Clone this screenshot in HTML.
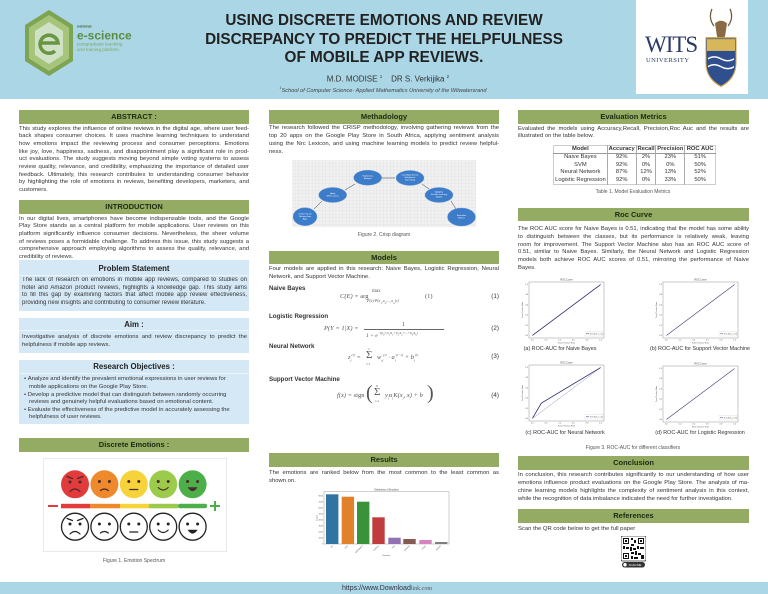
<!DOCTYPE html>
<html><head><meta charset="utf-8">
<style>
*{margin:0;padding:0;box-sizing:border-box}
body{width:768px;height:594px;overflow:hidden;background:#fff;font-family:"Liberation Sans",sans-serif;color:#333}
#pg{position:relative;width:768px;height:594px;overflow:hidden;background:#fff}
.a{position:absolute}
.bar{position:absolute;background:#93ab63;font-weight:bold;font-size:7.5px;color:#1d2a12;text-align:center}
.t{position:absolute;font-size:5.9px;color:#333;--lh:7.7px}
.t div{height:var(--lh);line-height:var(--lh);overflow:hidden;text-align:justify;text-align-last:justify;white-space:normal}
.t div.l{text-align-last:left}
.box{position:absolute;background:#d5e8f5}
.bh{position:absolute;font-weight:bold;font-size:7.8px;color:#222;text-align:center;height:11px;line-height:11px}
.sep{position:absolute;height:1px;background:#eaf4fb}
.cap{position:absolute;font-size:5px;color:#555;text-align:center;white-space:nowrap}
.sh{position:absolute;font-weight:bold;font-size:6.2px;color:#333}
.eq{position:absolute;font-family:"Liberation Serif",serif;font-style:italic;color:#555;font-size:6.5px;white-space:nowrap}
.en{position:absolute;font-size:6.3px;color:#333;right:269px}
table{border-collapse:collapse;font-size:5.8px;color:#333}
td{height:7.6px;line-height:7.2px;text-align:center;padding:0;border-left:0.6px solid #aaa;white-space:nowrap}
td:first-child{border-left:none}
.ro div{height:7.66px;line-height:7.66px;white-space:nowrap}
</style></head><body><div id="pg">

<!-- HEADER -->
<div class="a" style="left:0;top:0;width:768px;height:99px;background:#abd6e6"></div>
<svg class="a" style="left:0;top:0" width="160" height="99" viewBox="0 0 160 99">
  <polygon points="49,10 73,25 73,61 49,76 25,61 25,25" fill="#7da453"/>
  <polygon points="49,15 69,27.5 69,58.5 49,71 29,58.5 29,27.5" fill="#a6c47a"/>
  <polygon points="49,22 63,31 63,55 49,64 35,55 35,31" fill="#cfe2c6"/>
  <path d="M40 43 H58 A9 9 0 1 0 55 51" stroke="#6a9542" stroke-width="3.6" fill="none"/>
  <text x="77" y="27.5" font-size="3.8" font-weight="bold" fill="#4a6a32" font-family="Liberation Sans">national</text>
  <text x="77" y="39.5" font-size="12" font-weight="bold" fill="#5b8d3e" font-family="Liberation Sans">e-science</text>
  <text x="77" y="45.5" font-size="4.6" fill="#7ea862" font-family="Liberation Sans">postgraduate teaching</text>
  <text x="77" y="50.8" font-size="4.6" fill="#7ea862" font-family="Liberation Sans">and training platform</text>
</svg>
<div class="a" style="left:0;top:13px;width:768px;text-align:center;font-weight:bold;font-size:15.3px;line-height:16px;color:#222">USING DISCRETE EMOTIONS AND REVIEW</div>
<div class="a" style="left:0;top:31.5px;width:768px;text-align:center;font-weight:bold;font-size:15.3px;line-height:16px;color:#222">DISCREPANCY TO PREDICT THE HELPFULNESS</div>
<div class="a" style="left:0;top:50px;width:768px;text-align:center;font-weight:bold;font-size:15.3px;line-height:16px;color:#222">OF MOBILE APP REVIEWS.</div>
<div class="a" style="left:4px;top:71.5px;width:768px;text-align:center;font-size:8px;line-height:9px;color:#333">M.D. MODISE <sup style="font-size:4.5px">1</sup>&nbsp;&nbsp;&nbsp;&nbsp;DR S. Verkijika <sup style="font-size:4.5px">2</sup></div>
<div class="a" style="left:0;top:85px;width:766px;text-align:center;font-size:5.6px;font-style:italic;line-height:7px;color:#444"><sup style="font-size:3.5px">1</sup>School of Computer Science· Applied Mathematics University of the Witwatersrand</div>
<!-- WITS -->
<div class="a" style="left:636px;top:0;width:112px;height:94px;background:#fff"></div>
<div class="a" style="left:645px;top:33px;font-family:'Liberation Serif',serif;font-size:23px;line-height:24px;color:#2b3a67;letter-spacing:-1px">WITS</div>
<div class="a" style="left:646px;top:56.5px;font-family:'Liberation Serif',serif;font-size:6.5px;line-height:7px;color:#2b3a67;letter-spacing:0.45px">UNIVERSITY</div>
<svg class="a" style="left:698px;top:5px" width="46" height="84" viewBox="0 0 46 64" preserveAspectRatio="none">
  <path d="M14 3 Q10 10 16 16 M32 3 Q36 10 30 16" stroke="#6b5a3a" stroke-width="1.2" fill="none"/>
  <path d="M17 14 Q23 10 29 14 L27 24 Q23 27 19 24 Z" fill="#8a6a45"/>
  <path d="M8 25 H38 V44 Q38 56 23 62 Q8 56 8 44 Z" fill="#2f4f8f" stroke="#c9a14a" stroke-width="1"/>
  <rect x="9" y="26" width="28" height="9" fill="#d8b65a"/>
  <path d="M10 41 Q16 38 23 41 T36 41 M10 47 Q16 44 23 47 T36 47" stroke="#fff" stroke-width="1.1" fill="none"/>
</svg>

<!-- LEFT COLUMN -->
<div class="bar" style="left:19px;top:110px;width:230px;height:14px;line-height:14px">ABSTRACT :</div>
<div class="t" style="left:19px;top:125.5px;width:230px;--lh:7.68px">
<div>This study explores the influence of online reviews in the digital age, where user feed-</div>
<div>back shapes consumer choices. It uses machine learning techniques to understand</div>
<div>how emotions impact the reviewing process and consumer perceptions. Emotions</div>
<div>like joy, love, happiness, sadness, and disappointment play a significant role in prod-</div>
<div>uct evaluations. The study suggests moving beyond simple voting systems to assess</div>
<div>review quality, relevance, and credibility, emphasizing the importance of detailed user</div>
<div>feedback. Ultimately, this research contributes to understanding consumer behavior</div>
<div>by highlighting the role of emotions in reviews, benefiting developers, marketers, and</div>
<div class="l">customers.</div>
</div>

<div class="bar" style="left:19px;top:200px;width:230px;height:13.5px;line-height:13.5px">INTRODUCTION</div>
<div class="t" style="left:19px;top:215.5px;width:230px;--lh:7.68px">
<div>In our digital lives, smartphones have become indispensable tools, and the Google</div>
<div>Play Store stands as a central platform for mobile applications. User reviews on this</div>
<div>platform significantly influence consumer decisions. Nevertheless, the sheer volume</div>
<div>of reviews poses a formidable challenge. To address this issue, this study suggests a</div>
<div>comprehensive approach employing algorithms to assess the quality, relevance, and</div>
<div class="l">credibility of reviews.</div>
</div>

<div class="box" style="left:19px;top:260px;width:230px;height:51px"></div>
<div class="bh" style="left:19px;top:263px;width:230px">Problem Statement</div>
<div class="sep" style="left:19px;top:274.5px;width:230px"></div>
<div class="t" style="left:22px;top:276.9px;width:225px;font-size:6px">
<div>The lack of research on emotions in mobile app reviews, compared to studies on</div>
<div>hotel and Amazon product reviews, highlights a knowledge gap. This study aims</div>
<div>to fill this gap by examining factors that affect mobile app review effectiveness,</div>
<div class="l">providing new insights and contributing to consumer review literature.</div>
</div>

<div class="box" style="left:19px;top:318px;width:230px;height:35px"></div>
<div class="bh" style="left:19px;top:319px;width:230px">Aim :</div>
<div class="sep" style="left:19px;top:330px;width:230px"></div>
<div class="t" style="left:22px;top:333.9px;width:225px">
<div>Investigative analysis of discrete emotions and review discrepancy to predict the</div>
<div class="l">helpfulness if mobile app reviews.</div>
</div>

<div class="box" style="left:19px;top:360px;width:230px;height:64px"></div>
<div class="bh" style="left:19px;top:361px;width:230px">Research Objectives :</div>
<div class="sep" style="left:19px;top:372.5px;width:230px"></div>
<div class="a ro" style="left:24px;top:376.2px;width:224px;font-size:5.9px;color:#333">
<div>•&nbsp;Analyze and identify the prevalent emotional expressions in user reviews for</div>
<div style="padding-left:5px">mobile applications on the Google Play Store.</div>
<div>•&nbsp;Develop a predictive model that can distinguish between randomly occurring</div>
<div style="padding-left:5px">reviews and genuinely helpful evaluations based on emotional content.</div>
<div>•&nbsp;Evaluate the effectiveness of the predictive model in accurately assessing the</div>
<div style="padding-left:5px">helpfulness of user reviews.</div>
</div>

<div class="bar" style="left:19px;top:438px;width:230px;height:14px;line-height:14px">Discrete Emotions :</div>
<svg class="a" style="left:43px;top:458px" width="184" height="94" viewBox="0 0 184 94">
  <rect x="0.3" y="0.3" width="183.4" height="93.4" fill="#fff" stroke="#dcdcdc" stroke-width="0.6"/>
  <circle cx="32" cy="26.3" r="14" fill="#e23b3b"/>
  <circle cx="61.4" cy="26.3" r="14" fill="#ef8a2c"/>
  <circle cx="90.8" cy="26.3" r="14" fill="#f6d33b"/>
  <circle cx="120.2" cy="26.3" r="14" fill="#9ccb4b"/>
  <circle cx="149.6" cy="26.3" r="14" fill="#4daf4a"/>
  <g fill="#4a2a2a">
    <circle cx="27" cy="24" r="1.5"/><circle cx="37" cy="24" r="1.5"/>
    <circle cx="56.4" cy="23.5" r="1.5"/><circle cx="66.4" cy="23.5" r="1.5"/>
    <circle cx="85.8" cy="23.5" r="1.5"/><circle cx="95.8" cy="23.5" r="1.5"/>
    <circle cx="115.2" cy="23.5" r="1.5"/><circle cx="125.2" cy="23.5" r="1.5"/>
    <circle cx="144.6" cy="23.5" r="1.5"/><circle cx="154.6" cy="23.5" r="1.5"/>
  </g>
  <g stroke="#4a2a2a" stroke-width="1.2" fill="none" stroke-linecap="round">
    <path d="M24 18.5 L29.5 20.5 M40 18.5 L34.5 20.5"/>
    <path d="M27 33.5 Q32 28.5 37 33.5"/>
    <path d="M57.4 32.5 Q61.4 29.5 65.4 32.5"/>
    <path d="M86.8 31.5 H94.8"/>
    <path d="M115.2 29.5 Q120.2 34.5 125.2 29.5"/>
  </g>
  <path d="M144.6 29.3 Q149.6 37 154.6 29.3 Z" fill="#4a2a2a"/>
  <rect x="18" y="45.8" width="29" height="4.5" fill="#e23b3b"/>
  <rect x="47" y="45.8" width="30" height="4.5" fill="#ef8a2c"/>
  <rect x="77" y="45.8" width="29" height="4.5" fill="#f6d33b"/>
  <rect x="106" y="45.8" width="29" height="4.5" fill="#9ccb4b"/>
  <rect x="135" y="45.8" width="29" height="4.5" rx="2" fill="#4daf4a"/>
  <rect x="5" y="47" width="10" height="2" fill="#e23b3b"/>
  <rect x="167" y="47" width="10" height="2" fill="#4daf4a"/><rect x="171" y="43" width="2" height="10" fill="#4daf4a"/>
  <g fill="#fff" stroke="#222" stroke-width="1.3">
    <circle cx="32" cy="68.7" r="13.5"/><circle cx="61.4" cy="68.7" r="13.5"/><circle cx="90.8" cy="68.7" r="13.5"/><circle cx="120.2" cy="68.7" r="13.5"/><circle cx="149.6" cy="68.7" r="13.5"/>
  </g>
  <g fill="#222">
    <circle cx="27" cy="66" r="1.5"/><circle cx="37" cy="66" r="1.5"/>
    <circle cx="56.4" cy="66" r="1.5"/><circle cx="66.4" cy="66" r="1.5"/>
    <circle cx="85.8" cy="66" r="1.5"/><circle cx="95.8" cy="66" r="1.5"/>
    <circle cx="115.2" cy="66" r="1.5"/><circle cx="125.2" cy="66" r="1.5"/>
    <circle cx="144.6" cy="66" r="1.5"/><circle cx="154.6" cy="66" r="1.5"/>
  </g>
  <g stroke="#222" stroke-width="1.2" fill="none" stroke-linecap="round">
    <path d="M24 60.5 L29.5 62.5 M40 60.5 L34.5 62.5"/>
    <path d="M27 76 Q32 71 37 76"/>
    <path d="M57.4 75 Q61.4 72 65.4 75"/>
    <path d="M86.8 74 H94.8"/>
    <path d="M115.2 72 Q120.2 77 125.2 72"/>
  </g>
  <path d="M144.6 71.7 Q149.6 79.5 154.6 71.7 Z" fill="#222"/>
</svg>
<div class="cap" style="left:84px;top:557.5px;width:100px">Figure 1. Emotion Spectrum</div>

<!-- MIDDLE COLUMN -->
<div class="bar" style="left:269px;top:110px;width:230px;height:14px;line-height:14px">Methadology</div>
<div class="t" style="left:269px;top:125.4px;width:230px;--lh:7.8px">
<div>The research followed the CRISP methodology, involving gathering reviews from the</div>
<div>top 20 apps on the Google Play Store in South Africa, applying sentiment analysis</div>
<div>using the Nrc Lexicon, and using machine learning models to predict review helpful-</div>
<div class="l">ness.</div>
</div>
<svg class="a" style="left:292px;top:160px" width="184" height="67" viewBox="0 0 184 67">
  <defs><pattern id="g" width="3.4" height="3.4" patternUnits="userSpaceOnUse"><rect width="3.4" height="3.4" fill="#f1f1f1"/><path d="M3.4 0 V3.4 M0 3.4 H3.4" stroke="#cdcdcd" stroke-width="0.35"/></pattern></defs>
  <rect width="184" height="67" fill="url(#g)"/>
  <g stroke="#333" stroke-width="0.5" fill="#333">
    <line x1="22" y1="49" x2="30" y2="41"/><line x1="53" y1="30" x2="63" y2="24"/><line x1="90" y1="18" x2="103" y2="18"/><line x1="130" y1="24" x2="137" y2="29"/><line x1="159" y1="41" x2="164" y2="49"/>
  </g>
  <g fill="#3d7cc9" stroke="#6a9bd8" stroke-width="0.4">
    <ellipse cx="13" cy="56.7" rx="12" ry="9"/>
    <ellipse cx="40.7" cy="35" rx="14" ry="7.5"/>
    <ellipse cx="75.7" cy="17.7" rx="14" ry="7.5"/>
    <ellipse cx="118" cy="18" rx="14" ry="7.5"/>
    <ellipse cx="147" cy="35" rx="14" ry="7.5"/>
    <ellipse cx="169.5" cy="57" rx="14" ry="9"/>
  </g>
  <g fill="#fff" font-size="2" text-anchor="middle" font-family="Liberation Sans">
    <text x="13" y="54.5">Gather Top 20</text><text x="13" y="57">Reviews from</text><text x="13" y="59.5">Apps</text>
    <text x="40.7" y="34">Apply</text><text x="40.7" y="36.5">NRC Lexicon</text>
    <text x="75.7" y="16.7">Exploratory</text><text x="75.7" y="19.2">Analysis</text>
    <text x="118" y="15.7">Classifying Review</text><text x="118" y="18.2">Helpfulness</text><text x="118" y="20.7">from Rating</text>
    <text x="147" y="32.7">Applying</text><text x="147" y="35.2">Machine Learning</text><text x="147" y="37.7">Models</text>
    <text x="169.5" y="56">Evaluation</text><text x="169.5" y="58.5">Metrics</text>
  </g>
</svg>
<div class="cap" style="left:334px;top:232px;width:100px">Figure 2. Crisp diagram</div>

<div class="bar" style="left:269px;top:250.7px;width:230px;height:13.5px;line-height:13.5px">Models</div>
<div class="t" style="left:269px;top:265.3px;width:230px;--lh:8px">
<div>Four models are applied in this research: Naive Bayes, Logistic Regression, Neural</div>
<div class="l">Network, and Support Vector Machine.</div>
</div>
<div class="sh" style="left:269px;top:284.5px">Naive Bayes</div>
<div class="eq" style="left:340px;top:292.5px">C(E) = <span style="font-style:normal">arg</span></div>
<div class="eq" style="left:372px;top:288.5px;font-size:5px;font-style:normal">max</div>
<div class="eq" style="left:367px;top:297.5px;font-size:4px">P(c)·P(x<sub style="font-size:3px">1</sub>,x<sub style="font-size:3px">2</sub>,...,x<sub style="font-size:3px">n</sub>|c)</div>
<div class="eq" style="left:425px;top:292.5px;font-style:normal">(1)</div>
<div class="en" style="top:293px">(1)</div>

<div class="sh" style="left:269px;top:313px">Logistic Regression</div>
<div class="eq" style="left:324px;top:325px">P(Y = 1|X) =</div>
<div class="eq" style="left:402px;top:320.5px;font-style:normal">1</div>
<div class="a" style="left:364px;top:329.2px;width:80px;height:0.6px;background:#666"></div>
<div class="eq" style="left:366px;top:330.5px;font-size:5.5px">1 + e<sup style="font-size:3.5px">−(β<sub>0</sub>+β<sub>1</sub>X<sub>1</sub>+β<sub>2</sub>X<sub>2</sub>+...+β<sub>k</sub>X<sub>k</sub>)</sup></div>
<div class="en" style="top:325px">(2)</div>

<div class="sh" style="left:269px;top:342.5px">Neural Network</div>
<div class="eq" style="left:348px;top:353px">z<sub style="font-size:3.5px">j</sub><sup style="font-size:3.5px">(l)</sup> =</div>
<div class="eq" style="left:366px;top:349px;font-size:11px;font-style:normal">Σ</div>
<div class="eq" style="left:368px;top:346.5px;font-size:3px">n</div>
<div class="eq" style="left:366px;top:362px;font-size:3px">i=1</div>
<div class="eq" style="left:377px;top:353px">w<sub style="font-size:3.5px">ij</sub><sup style="font-size:3.5px">(l)</sup> · a<sub style="font-size:3.5px">i</sub><sup style="font-size:3.5px">(l−1)</sup> + b<sub style="font-size:3.5px">j</sub><sup style="font-size:3.5px">(l)</sup></div>
<div class="en" style="top:353px">(3)</div>

<div class="sh" style="left:269px;top:375.5px">Support Vector Machine</div>
<div class="eq" style="left:337px;top:392px">f(x) = <span style="font-style:normal">sign</span></div>
<div class="eq" style="left:366px;top:381px;font-size:20px;font-style:normal;line-height:24px">(</div>
<div class="eq" style="left:374px;top:386px;font-size:11px;font-style:normal">Σ</div>
<div class="eq" style="left:376px;top:383.5px;font-size:3px">N</div>
<div class="eq" style="left:375px;top:399px;font-size:3px">i=1</div>
<div class="eq" style="left:385px;top:392px">y<sub style="font-size:3.5px">i</sub>α<sub style="font-size:3.5px">i</sub>K(x<sub style="font-size:3.5px">i</sub>, x) + b</div>
<div class="eq" style="left:427px;top:381px;font-size:20px;font-style:normal;line-height:24px">)</div>
<div class="en" style="top:392px">(4)</div>

<div class="bar" style="left:269px;top:453px;width:230px;height:13.7px;line-height:13.7px">Results</div>
<div class="t" style="left:269px;top:468.5px;width:230px;--lh:8.3px">
<div>The emotions are ranked below from the most common to the least common as</div>
<div class="l">shown on.</div>
</div>
<svg class="a" style="left:315px;top:487px" width="140" height="72" viewBox="0 0 140 72">
  <text x="71.5" y="3.3" font-size="2.3" text-anchor="middle" fill="#444" font-family="Liberation Sans">Distribution of Emotions</text>
  <rect x="9" y="4.7" width="125" height="52.3" fill="#fff" stroke="#777" stroke-width="0.35"/>
  <rect x="11" y="7.3" width="12.4" height="49.7" fill="#3274a1"/>
  <rect x="26.7" y="9.7" width="12.4" height="47.3" fill="#e1812c"/>
  <rect x="42" y="14.7" width="12.4" height="42.3" fill="#3a923a"/>
  <rect x="57.3" y="30.3" width="12.4" height="26.7" fill="#c03d3e"/>
  <rect x="73.3" y="50.7" width="12.4" height="6.3" fill="#9372b2"/>
  <rect x="88.3" y="52" width="12.4" height="5" fill="#845b53"/>
  <rect x="104.3" y="53" width="12.4" height="4" fill="#d684bd"/>
  <rect x="120" y="55" width="12.4" height="2" fill="#7f7f7f"/>
  <g font-size="2" fill="#555" text-anchor="end" font-family="Liberation Sans">
    <text x="8" y="57.5">0</text><text x="8" y="51.5">1000</text><text x="8" y="45.5">2000</text><text x="8" y="39.5">3000</text><text x="8" y="33.5">4000</text><text x="8" y="27.5">5000</text><text x="8" y="21.5">6000</text><text x="8" y="15.5">7000</text><text x="8" y="9.5">8000</text>
  </g>
  <g font-size="2" fill="#555" text-anchor="end" font-family="Liberation Sans">
    <text transform="translate(18,59) rotate(-45)">joy</text>
    <text transform="translate(33,59) rotate(-45)">trust</text>
    <text transform="translate(48,59) rotate(-45)">anticipation</text>
    <text transform="translate(64,59) rotate(-45)">surprise</text>
    <text transform="translate(80,59) rotate(-45)">fear</text>
    <text transform="translate(95,59) rotate(-45)">sadness</text>
    <text transform="translate(111,59) rotate(-45)">anger</text>
    <text transform="translate(126,59) rotate(-45)">disgust</text>
  </g>
  <text x="71.5" y="69" font-size="2.2" text-anchor="middle" fill="#555" font-family="Liberation Sans">Emotion</text>
  <text transform="translate(2.3,31) rotate(-90)" font-size="2.2" text-anchor="middle" fill="#555" font-family="Liberation Sans">Count</text>
</svg>

<!-- RIGHT COLUMN -->
<div class="bar" style="left:518px;top:110px;width:231px;height:14px;line-height:14px">Evaluation Metrics</div>
<div class="t" style="left:518px;top:125.5px;width:231px">
<div>Evaluated the models using Accuracy,Recall, Precision,Roc Auc and the results are</div>
<div class="l">illustrated on the table below.</div>
</div>
<table class="a" style="left:553px;top:145px;width:163px;border:0.6px solid #ccc">
<colgroup><col style="width:54px"><col style="width:29px"><col style="width:20px"><col style="width:29px"><col style="width:31px"></colgroup>
<tr style="font-weight:bold;border-bottom:0.6px solid #999"><td>Model</td><td>Accuracy</td><td>Recall</td><td>Precision</td><td>ROC AUC</td></tr>
<tr><td>Naive Bayes</td><td>92%</td><td>2%</td><td>23%</td><td>51%</td></tr>
<tr><td>SVM</td><td>92%</td><td>0%</td><td>0%</td><td>50%</td></tr>
<tr><td>Neural Network</td><td>87%</td><td>12%</td><td>13%</td><td>52%</td></tr>
<tr><td>Logistic Regression</td><td>92%</td><td>0%</td><td>33%</td><td>50%</td></tr>
</table>
<div class="cap" style="left:573px;top:189.3px;width:120px">Table 1. Model Evaluation Metrics</div>

<div class="bar" style="left:518px;top:207.7px;width:231px;height:13.5px;line-height:13.5px">Roc Curve</div>
<div class="t" style="left:518px;top:226.1px;width:231px;--lh:7.8px;font-size:5.8px">
<div>The ROC AUC score for Naive Bayes is 0.51, indicating that the model has some ability</div>
<div>to distinguish between the classes, but its performance is relatively weak, leaving</div>
<div>room for improvement. The Support Vector Machine also has an ROC AUC score of</div>
<div>0.51, similar to Naive Bayes. Similarly, the Neural Network and Logistic Regression</div>
<div>models both achieve ROC AUC scores of 0.51, mirroring the performance of Naive</div>
<div class="l">Bayes.</div>
</div>

<!-- ROC plots -->
<svg class="a" style="left:519px;top:275px" width="90" height="70" viewBox="0 0 90 70" font-family="Liberation Sans">
  <text x="47.5" y="5.3" font-size="2.4" text-anchor="middle" fill="#444">ROC Curve</text>
  <rect x="10" y="7" width="75" height="56" fill="#fff" stroke="#666" stroke-width="0.35"/>
  <g font-size="2" fill="#555" text-anchor="middle"><text x="13.4" y="65.5">0.0</text><text x="27" y="65.5">0.2</text><text x="40.7" y="65.5">0.4</text><text x="54.3" y="65.5">0.6</text><text x="68" y="65.5">0.8</text><text x="81.6" y="65.5">1.0</text></g>
  <g font-size="2" fill="#555" text-anchor="end"><text x="9" y="61">0.0</text><text x="9" y="50.8">0.2</text><text x="9" y="40.6">0.4</text><text x="9" y="30.4">0.6</text><text x="9" y="20.2">0.8</text><text x="9" y="10.1">1.0</text></g>
  <text x="47.5" y="68.5" font-size="2" text-anchor="middle" fill="#555">False Positive Rate</text>
  <text transform="translate(4,35) rotate(-90)" font-size="2" text-anchor="middle" fill="#555">True Positive Rate</text>
  <line x1="13.4" y1="60.45" x2="81.6" y2="9.55" stroke="#8a8ac0" stroke-width="0.5" stroke-dasharray="1,0.6"/>
  <line x1="13.4" y1="60.45" x2="81.6" y2="9.55" stroke="#2a2a6e" stroke-width="0.8"/>
  <rect x="66" y="56.5" width="18" height="4.5" fill="#fff" stroke="#ccc" stroke-width="0.3"/>
  <line x1="67" y1="58.8" x2="70" y2="58.8" stroke="#2a2a6e" stroke-width="0.5"/>
  <text x="71" y="59.5" font-size="1.7" fill="#555">ROC AUC = 0.51</text>
</svg>
<svg class="a" style="left:653px;top:275px" width="90" height="70" viewBox="0 0 90 70" font-family="Liberation Sans">
  <text x="47.5" y="5.3" font-size="2.4" text-anchor="middle" fill="#444">ROC Curve</text>
  <rect x="10" y="7" width="75" height="56" fill="#fff" stroke="#666" stroke-width="0.35"/>
  <g font-size="2" fill="#555" text-anchor="middle"><text x="13.4" y="65.5">0.0</text><text x="27" y="65.5">0.2</text><text x="40.7" y="65.5">0.4</text><text x="54.3" y="65.5">0.6</text><text x="68" y="65.5">0.8</text><text x="81.6" y="65.5">1.0</text></g>
  <g font-size="2" fill="#555" text-anchor="end"><text x="9" y="61">0.0</text><text x="9" y="50.8">0.2</text><text x="9" y="40.6">0.4</text><text x="9" y="30.4">0.6</text><text x="9" y="20.2">0.8</text><text x="9" y="10.1">1.0</text></g>
  <text x="47.5" y="68.5" font-size="2" text-anchor="middle" fill="#555">False Positive Rate</text>
  <text transform="translate(4,35) rotate(-90)" font-size="2" text-anchor="middle" fill="#555">True Positive Rate</text>
  <line x1="13.4" y1="60.45" x2="81.6" y2="9.55" stroke="#3a3a78" stroke-width="0.6"/>
  <rect x="66" y="56.5" width="18" height="4.5" fill="#fff" stroke="#ccc" stroke-width="0.3"/>
  <line x1="67" y1="58.8" x2="70" y2="58.8" stroke="#3a3a78" stroke-width="0.5"/>
  <text x="71" y="59.5" font-size="1.7" fill="#555">ROC AUC = 0.50</text>
</svg>
<svg class="a" style="left:519px;top:358px" width="90" height="70" viewBox="0 0 90 70" font-family="Liberation Sans">
  <text x="47.5" y="5.3" font-size="2.4" text-anchor="middle" fill="#444">ROC Curve</text>
  <rect x="10" y="7" width="75" height="56" fill="#fff" stroke="#666" stroke-width="0.35"/>
  <g font-size="2" fill="#555" text-anchor="middle"><text x="13.4" y="65.5">0.0</text><text x="27" y="65.5">0.2</text><text x="40.7" y="65.5">0.4</text><text x="54.3" y="65.5">0.6</text><text x="68" y="65.5">0.8</text><text x="81.6" y="65.5">1.0</text></g>
  <g font-size="2" fill="#555" text-anchor="end"><text x="9" y="61">0.0</text><text x="9" y="50.8">0.2</text><text x="9" y="40.6">0.4</text><text x="9" y="30.4">0.6</text><text x="9" y="20.2">0.8</text><text x="9" y="10.1">1.0</text></g>
  <text x="47.5" y="68.5" font-size="2" text-anchor="middle" fill="#555">False Positive Rate</text>
  <text transform="translate(4,35) rotate(-90)" font-size="2" text-anchor="middle" fill="#555">True Positive Rate</text>
  <line x1="13.4" y1="60.45" x2="81.6" y2="9.55" stroke="#b8b8e0" stroke-width="0.6"/>
  <polyline points="13.4,60.45 22.3,45.2 81.6,9.55" fill="none" stroke="#2a2a6e" stroke-width="0.8"/>
  <rect x="66" y="56.5" width="18" height="4.5" fill="#fff" stroke="#ccc" stroke-width="0.3"/>
  <line x1="67" y1="58.8" x2="70" y2="58.8" stroke="#2a2a6e" stroke-width="0.5"/>
  <text x="71" y="59.5" font-size="1.7" fill="#555">ROC AUC = 0.52</text>
</svg>
<svg class="a" style="left:653px;top:359px" width="90" height="70" viewBox="0 0 90 70" font-family="Liberation Sans">
  <text x="47.5" y="5.3" font-size="2.4" text-anchor="middle" fill="#444">ROC Curve</text>
  <rect x="10" y="7" width="75" height="56" fill="#fff" stroke="#666" stroke-width="0.35"/>
  <g font-size="2" fill="#555" text-anchor="middle"><text x="13.4" y="65.5">0.0</text><text x="27" y="65.5">0.2</text><text x="40.7" y="65.5">0.4</text><text x="54.3" y="65.5">0.6</text><text x="68" y="65.5">0.8</text><text x="81.6" y="65.5">1.0</text></g>
  <g font-size="2" fill="#555" text-anchor="end"><text x="9" y="61">0.0</text><text x="9" y="50.8">0.2</text><text x="9" y="40.6">0.4</text><text x="9" y="30.4">0.6</text><text x="9" y="20.2">0.8</text><text x="9" y="10.1">1.0</text></g>
  <text x="47.5" y="68.5" font-size="2" text-anchor="middle" fill="#555">False Positive Rate</text>
  <text transform="translate(4,35) rotate(-90)" font-size="2" text-anchor="middle" fill="#555">True Positive Rate</text>
  <line x1="13.4" y1="60.45" x2="81.6" y2="9.55" stroke="#3a3a78" stroke-width="0.6"/>
  <rect x="66" y="56.5" width="18" height="4.5" fill="#fff" stroke="#ccc" stroke-width="0.3"/>
  <line x1="67" y1="58.8" x2="70" y2="58.8" stroke="#3a3a78" stroke-width="0.5"/>
  <text x="71" y="59.5" font-size="1.7" fill="#555">ROC AUC = 0.50</text>
</svg>
<div class="cap" style="left:505px;top:346px;width:110px;font-size:5.4px;color:#333">(a) ROC-AUC for Naive Bayes</div>
<div class="cap" style="left:640px;top:346px;width:120px;font-size:5.4px;color:#333">(b) ROC-AUC for Support Vector Machine</div>
<div class="cap" style="left:510px;top:430px;width:110px;font-size:5.4px;color:#333">(c) ROC-AUC for Neural Network</div>
<div class="cap" style="left:640px;top:430px;width:120px;font-size:5.4px;color:#333">(d) ROC-AUC for Logistic Regression</div>
<div class="cap" style="left:573px;top:445.3px;width:120px">Figure 3. ROC-AUC for different classifiers</div>

<div class="bar" style="left:518px;top:456px;width:231px;height:14px;line-height:14px">Conclusion</div>
<div class="t" style="left:518px;top:470.9px;width:231px;--lh:8.2px">
<div>In conclusion, this research contributes significantly to our understanding of how user</div>
<div>emotions influence product evaluations on the Google Play Store. The analysis of ma-</div>
<div>chine learning models highlights the complexity of sentiment analysis in this context,</div>
<div class="l">while the recognition of data imbalance indicated the need for further investigation.</div>
</div>
<div class="bar" style="left:518px;top:509px;width:231px;height:13.7px;line-height:13.7px">References</div>
<div class="a" style="left:518px;top:525px;font-size:5.9px;line-height:8px;color:#333">Scan the QR code below to get the full paper</div>
<svg class="a" style="left:621px;top:536px" width="25" height="33" viewBox="0 0 25 33">
  <rect x="0" y="0" width="25" height="25" rx="1.5" fill="#fff" stroke="#333" stroke-width="0.8"/>
  <g fill="#111">
    <rect x="2" y="2" width="6" height="6"/><rect x="17" y="2" width="6" height="6"/><rect x="2" y="17" width="6" height="6"/>
    <rect x="10" y="2" width="2" height="2"/><rect x="13" y="4" width="2" height="3"/><rect x="10" y="8" width="3" height="2"/>
    <rect x="2" y="10" width="2" height="3"/><rect x="5" y="11" width="3" height="2"/><rect x="9" y="11" width="2" height="4"/>
    <rect x="12" y="12" width="3" height="2"/><rect x="16" y="10" width="2" height="3"/><rect x="19" y="11" width="4" height="2"/>
    <rect x="10" y="16" width="3" height="2"/><rect x="14" y="15" width="2" height="4"/><rect x="17" y="17" width="3" height="2"/>
    <rect x="20" y="19" width="3" height="4"/><rect x="10" y="20" width="2" height="3"/><rect x="13" y="21" width="4" height="2"/>
  </g>
  <g fill="#fff"><rect x="3" y="3" width="4" height="4"/><rect x="18" y="3" width="4" height="4"/><rect x="3" y="18" width="4" height="4"/></g>
  <g fill="#111"><rect x="4" y="4" width="2" height="2"/><rect x="19" y="4" width="2" height="2"/><rect x="4" y="19" width="2" height="2"/></g>
  <rect x="1" y="26" width="23" height="5.5" rx="2.7" fill="#333"/>
  <circle cx="4" cy="28.75" r="1.7" fill="#fff"/>
  <text x="14" y="29.9" font-size="2.8" fill="#fff" text-anchor="middle" font-family="Liberation Sans">SCAN ME</text>
</svg>

<!-- FOOTER -->
<div class="a" style="left:0;top:582px;width:768px;height:12px;background:#abd6e6"></div>
<div class="a" style="left:0;top:582.5px;width:768px;text-align:center;font-size:7px;line-height:11px;color:#334"><span style="padding-left:6px">https://www.Download</span><span style="font-family:'Liberation Serif',serif;font-size:6px;color:#556">link.com</span></div>

</div></body></html>
